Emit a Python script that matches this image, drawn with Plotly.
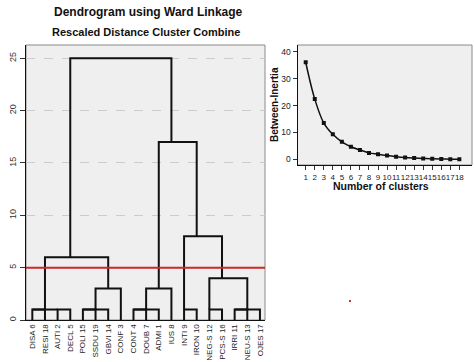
import plotly.graph_objects as go

W, H = 474, 362

# ---------------- data ----------------
leaf_labels = ["DISA 6", "RESI 18", "AUTI 2", "DECL 5", "POLI 15", "SSDU 19", "GBVI 14",
               "CONF 3", "CONT 4", "DOUB 7", "ADMI 1", "IUS 8", "INTI 9", "IRON 10",
               "NEG-S 12", "PCS-S 16", "IRRI 11", "NEU-S 13", "OJES 17"]

# Ward linkage (SPSS rescaled distances). Cluster ids: leaves 0..18, merges 19..
merge_left = [0, 2, 19, 4, 22, 23, 21, 8, 26, 27, 12, 14, 16, 31, 30, 29, 28, 25]
merge_right = [1, 3, 20, 5, 6, 7, 24, 9, 10, 11, 13, 15, 17, 18, 32, 33, 34, 35]
merge_height = [1, 1, 1, 1, 1, 3, 6, 1, 1, 3, 1, 1, 1, 1, 4, 8, 17, 25]

cut_height = 5

n_clusters = list(range(1, 19))
between_inertia = [36.1, 22.4, 13.5, 9.3, 6.5, 4.7, 3.5, 2.4, 1.9, 1.4, 1.0, 0.7,
                   0.5, 0.35, 0.2, 0.12, 0.06, 0.02]

# ---------------- dendrogram segments ----------------
n = len(leaf_labels)
stem = list(range(n))
level = [0] * n
dx, dy = [], []
for a, b, h in zip(merge_left, merge_right, merge_height):
    xa, xb = stem[a], stem[b]
    dx += [xa, xa, xb, xb, None]
    dy += [level[a], h, h, level[b], None]
    stem.append((xa + xb) // 2)
    level.append(h)

FONT = "Arial, Liberation Sans, sans-serif"

fig = go.Figure()
fig.add_trace(go.Scatter(x=dx, y=dy, mode="lines", line=dict(color="#111111", width=2),
                         xaxis="x", yaxis="y", hoverinfo="skip", showlegend=False))
fig.add_trace(go.Scatter(x=n_clusters, y=between_inertia, mode="lines+markers",
                         line=dict(color="#111111", width=1.5, shape="spline"),
                         marker=dict(symbol="square", size=4, color="#111111"),
                         xaxis="x2", yaxis="y2", showlegend=False))

def px(x):
    return x / W

def py(y):
    return 1 - y / H

fig.update_layout(
    width=W, height=H,
    margin=dict(l=0, r=0, t=0, b=0, autoexpand=False),
    paper_bgcolor="white",
    plot_bgcolor="#efefef",
    font=dict(family=FONT, color="#222222"),
    showlegend=False,
    xaxis=dict(domain=[px(26), px(265)], range=[-0.5, 18.4], automargin=False,
               tickmode="array", tickvals=list(range(n)), ticktext=leaf_labels,
               tickangle=-90, tickfont=dict(size=8, color="#222222"),
               showgrid=False, zeroline=False, showline=True, linecolor="#111111",
               linewidth=1, ticks=""),
    yaxis=dict(domain=[py(320), py(45)], range=[0, 26.27], automargin=False,
               tickmode="array", tickvals=[0, 5, 10, 15, 20, 25], tickangle=-90,
               tickfont=dict(size=9, color="#333333"),
               ticks="outside", ticklen=5, tickcolor="#333333",
               showgrid=True, gridcolor="#cccccc", griddash="dash", gridwidth=1,
               zeroline=False, showline=True, linecolor="#111111", linewidth=1),
    xaxis2=dict(domain=[px(297.5), px(472)], anchor="y2", range=[0.09, 19.4],
                automargin=False,
                tickmode="array", tickvals=n_clusters, tickangle=0,
                tickfont=dict(size=8, color="#222222"),
                ticks="outside", ticklen=4, tickcolor="#333333",
                showgrid=False, zeroline=False, showline=True, linecolor="#111111",
                linewidth=1),
    yaxis2=dict(domain=[py(165), py(45)], anchor="x2", range=[-2.1, 42.5],
                automargin=False,
                tickmode="array", tickvals=[0, 10, 20, 30, 40],
                tickfont=dict(size=8.5, color="#222222"),
                ticks="outside", ticklen=4, tickcolor="#333333",
                showgrid=False, zeroline=False, showline=True, linecolor="#111111",
                linewidth=1),
    shapes=[
        dict(type="rect", xref="x domain", yref="y domain", x0=0, x1=1, y0=0, y1=1,
             line=dict(color="#8a8a8a", width=1), layer="below"),
        dict(type="rect", xref="x2 domain", yref="y2 domain", x0=0, x1=1, y0=0, y1=1,
             line=dict(color="#8a8a8a", width=1), layer="below"),
        dict(type="line", xref="x domain", yref="y", x0=0, x1=1,
             y0=cut_height, y1=cut_height, line=dict(color="#cc2a2a", width=2)),
        dict(type="rect", xref="paper", yref="paper", x0=px(349), x1=px(351),
             y0=py(302), y1=py(300), line=dict(width=0), fillcolor="#d03030"),
    ],
    annotations=[
        dict(text="<b>Dendrogram using Ward Linkage</b>", xref="paper", yref="paper",
             x=px(148), y=py(12), showarrow=False, font=dict(size=12, color="#111111"),
             xanchor="center", yanchor="middle", borderpad=0),
        dict(text="<b>Rescaled Distance Cluster Combine</b>", xref="paper", yref="paper",
             x=px(146), y=py(32), showarrow=False, font=dict(size=11, color="#111111"),
             xanchor="center", yanchor="middle"),
        dict(text="<b>Between-Inertia</b>", xref="paper", yref="paper",
             x=px(274), y=py(105), showarrow=False, textangle=-90,
             font=dict(size=10, color="#111111"), xanchor="center", yanchor="middle"),
        dict(text="<b>Number of clusters</b>", xref="paper", yref="paper",
             x=px(381), y=py(186), showarrow=False,
             font=dict(size=10.5, color="#111111"), xanchor="center", yanchor="middle"),
    ],
)

fig.write_html("out.html", config={"displayModeBar": False},
               post_script="document.body.style.margin='0';document.body.style.overflow='hidden';")
